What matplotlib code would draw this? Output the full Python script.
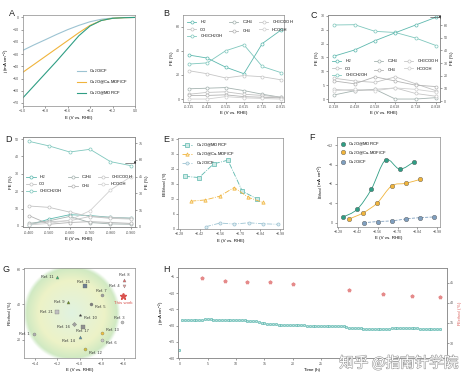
import numpy as np
import matplotlib
matplotlib.use("Agg")
import matplotlib.pyplot as plt
from matplotlib.path import Path
from matplotlib.patches import PathPatch
import matplotlib.patheffects as pe

# ---------------- data ----------------
# A: LSV
E_A = [-1.0, -0.9, -0.8, -0.7, -0.6, -0.5, -0.4, -0.3, -0.2, -0.1, 0.0]
j_A_cf = [-27, -22.5, -18.3, -14, -10, -6.5, -3.5, -1.5, -0.5, -0.1, 0]
j_A_cumof = [-45, -38.5, -32, -25.5, -19, -12.5, -6.5, -2.5, -0.7, -0.2, 0]
j_A_mof = [-66, -56, -46, -36, -25.5, -15, -7, -2.5, -0.7, -0.2, 0]

PROD = ["H$_2$", "C$_2$H$_4$", "CH$_3$COOH", "CO", "CH$_4$", "HCOOH", "CH$_3$CH$_2$OH"]

# B: Cu2O@MOF/CF product FE
B_ticks = ["-0.315", "-0.415", "-0.515", "-0.615", "-0.715", "-0.815"]
B_fe = {
    "H$_2$":          [36.5, 34, 26.5, 21, 46, 57],
    "C$_2$H$_4$":     [8.5, 9, 9.5, 7, 4, 1.5],
    "CH$_3$COOH":     [23.5, 21, 17.5, 19.5, 18.5, 16],
    "CO":             [4, 5.5, 6, 4, 3, 1.5],
    "CH$_4$":         [3, 3, 3.5, 2, 1.5, 1],
    "HCOOH":          [0, 0, 2, 1, 0.5, 0],
    "CH$_3$CH$_2$OH": [29, 30, 40, 45, 27, 22],
}

# C: Cu2O@Cu-MOF/CF product FE (H2 on right axis)
C_ticks = ["-0.318", "-0.418", "-0.518", "-0.618", "-0.718", "-0.818"]
C_fe = {
    "H$_2$":          [35.5, 40.3, 47.6, 53.9, 60, 66.1],
    "C$_2$H$_4$":     [1.5, 3, 3.5, 0, 0, 0.5],
    "CH$_3$COOH":     [3.5, 3, 3.5, 4, 2, 1],
    "CO":             [7.5, 6.5, 6, 8, 5.5, 3],
    "CH$_4$":         [6.5, 5.5, 8, 6.5, 5, 4.5],
    "HCOOH":          [3, 3.5, 3, 4, 3.5, 2.5],
    "CH$_3$CH$_2$OH": [26.7, 26.8, 24.4, 24.0, 22.0, 19.3],
}

# D: Cu2O/CF product FE (ethanol on right axis)
D_ticks = ["-0.460", "-0.560", "-0.660", "-0.760", "-0.860", "-0.960"]
D_fe = {
    "H$_2$":          [0.5, 4, 6.5, 6, 5, 4.5],
    "C$_2$H$_4$":     [1.5, 3, 5.5, 2, 1.2, 1],
    "CH$_3$COOH":     [1, 2.5, 3, 5.5, 5, 4.5],
    "CO":             [11.5, 10.7, 8, 5.4, 4.4, 4],
    "CH$_4$":         [6, 1, 2, 2.5, 2, 1.5],
    "HCOOH":          [0.6, 1.5, 3.4, 8.8, 20.7, 28.4],
    "CH$_3$CH$_2$OH": [76.8, 72.6, 67.2, 69.6, 58.5, 54.9],
}

# E / F: ethanol energy efficiency and partial current density
E_mof = [-0.315, -0.415, -0.515, -0.615, -0.715, -0.815]
E_cumof = [-0.358, -0.458, -0.558, -0.658, -0.758, -0.858]
E_cf = [-0.46, -0.56, -0.66, -0.76, -0.86, -0.96]
ee_mof = [21, 20.5, 26, 27.5, 15, 12]
ee_cumof = [11, 11.5, 13, 16.5, 12.5, 10.5]
ee_cf = [0.7, 2.2, 1.8, 2.3, 1.9, 1.7]
jeth_mof = [-0.9, -2.1, -5.2, -9.7, -8.3, -9.4]
jeth_cumof = [-0.6, -1.55, -3.1, -5.7, -6.1, -6.7]
jeth_cf = [0.0, -0.2, -0.3, -0.6, -0.8, -0.9]

# G: literature comparison
G_names = ["Ref. 1", "Ref. 11", "Ref. 15", "Ref. 7", "Ref. 8", "Ref. 4", "Ref. 9", "Ref. 5",
           "Ref. 21", "Ref. 10", "Ref. 3", "Ref. 16", "Ref. 17", "Ref. 13", "Ref. 14",
           "Ref. 6", "Ref. 12"]
G_E = [-1.41, -1.2, -0.95, -0.8, -0.6, -0.6, -1.1, -0.9, -1.2, -1.0, -0.62, -1.05, -0.97,
       -0.8, -1.0, -0.8, -0.95]
G_FE = [23.2, 55.5, 50.2, 45.5, 54, 50.2, 41.3, 40.4, 35.7, 33.8, 30, 28.9, 27.2, 23.8,
        21.9, 20, 15]
work_E, work_FE = -0.61, 44.5

# H: stability
t_h = np.arange(0, 46.5, 0.5)
j_h = [-27.4,
       -18.4, -18.4, -18.3, -18.3, -18.3, -18.3, -18.2, -18.2,
       -18.1, -18.1, -18.1, -18.2, -18.2, -18.2, -18.2, -18.3,
       -18.3, -18.3, -18.3, -18.4, -18.4, -18.4, -18.4, -18.5,
       -18.5, -18.6, -18.7, -18.9, -19.1, -19.3, -19.4, -19.5,
       -19.6, -19.6, -19.7, -19.7, -19.7, -19.8, -19.8, -19.8,
       -19.9, -19.9, -19.9, -19.9, -20.0, -20.0, -20.0, -20.0,
       -20.0, -20.0, -20.1, -20.1, -20.1, -20.1, -20.0, -20.0,
       -20.0, -20.0, -20.5, -20.6, -20.7, -20.7, -20.8, -20.8,
       -20.9, -20.9, -21.0, -21.0, -21.0, -21.0, -21.0, -21.1,
       -21.1, -21.0, -20.8, -20.7, -20.7, -20.7, -20.7, -20.7,
       -20.8, -20.8, -20.8, -20.8, -20.9, -20.9, -20.9, -20.9,
       -21.0, -21.0, -21.0, -21.0]
t_fe = [4, 8, 12, 16, 20, 30, 36, 41, 46]
fe_h = [46.3, 45.5, 45.3, 45.2, 44.7, 43.2, 42.2, 41.6, 41.4]

# ---------------- style ----------------
plt.rcParams.update({"font.family": ["Liberation Sans", "DejaVu Sans"], "font.size": 3.2,
                     "axes.linewidth": 0.5, "axes.edgecolor": "#8a8a8a",
                     "mathtext.default": "regular"})
TS, LS, GS = 2.6, 3.2, 3.0
MOF_COL = "#2f9e84"; CUMOF_COL = "#f0b43c"; CF_COL = "#9cc3d2"
TEAL = "#5db8ae"
SER_COL = {"H$_2$": TEAL, "C$_2$H$_4$": "#a5b3b0", "CH$_3$COOH": "#c6c6c6", "CO": "#c2c2c2",
           "CH$_4$": "#b3b3b3", "HCOOH": "#d0d0d0", "CH$_3$CH$_2$OH": "#7fc7bd"}
LEG_ORDER = ["H$_2$", "CO", "CH$_3$CH$_2$OH", "C$_2$H$_4$", "CH$_4$", "CH$_3$COOH", "HCOOH"]

W, H = 466, 382
fig = plt.figure(figsize=(W / 100, H / 100), dpi=100, facecolor="white")


def add_ax(l, t, r, b):
    return fig.add_axes([l / W, 1 - b / H, (r - l) / W, (b - t) / H])


def frame(ax):
    for s in ax.spines.values():
        s.set_linewidth(0.5); s.set_color("#8a8a8a")
    ax.tick_params(labelsize=TS, length=1.5, width=0.4, pad=1, colors="#555555")


def tag(x, y, t):
    fig.text(x / W, 1 - y / H, t, fontsize=6.5, ha="center", va="center", color="#222222")


def smooth(ax, xs, ys, **kw):
    # Catmull-Rom style Bezier path through the measured points
    pts = np.column_stack([xs, ys]).astype(float)
    P = np.vstack([pts[0], pts, pts[-1]])
    verts = [tuple(pts[0])]; codes = [Path.MOVETO]
    for i in range(1, len(P) - 2):
        c1 = P[i] + (P[i + 1] - P[i - 1]) / 6
        c2 = P[i + 1] - (P[i + 2] - P[i]) / 6
        verts += [tuple(c1), tuple(c2), tuple(P[i + 1])]
        codes += [Path.CURVE4] * 3
    ax.add_patch(PathPatch(Path(verts, codes), fill=False, **kw))


def fe_panel(ax, data, ticks, right_key=None, ax2=None):
    x = np.arange(len(ticks))
    handles = {}
    for k in PROD:
        tgt = ax2 if (k == right_key and ax2 is not None) else ax
        h, = tgt.plot(x, data[k], "-", marker="o", ms=2.2, lw=0.6, color=SER_COL[k],
                      mfc="white", mew=0.5, label=k)
        handles[k] = h
    ax.set_xticks(x); ax.set_xticklabels(ticks)
    ax.set_xlim(-0.3, 5.2)
    ax.set_xlabel("E (V vs. RHE)", fontsize=LS, labelpad=1.5)
    ax.set_ylabel("FE (%)", fontsize=LS, labelpad=1.5)
    return handles


def fe_legend(ax, hd, y):
    ax.legend([hd[k] for k in LEG_ORDER], LEG_ORDER, ncol=3, loc="upper left", frameon=False,
              fontsize=GS, handlelength=2.2, columnspacing=1.5, labelspacing=0.3,
              bbox_to_anchor=(0.0, y))


# ---------------- A ----------------
ax = add_ax(22.7, 15, 135, 106); frame(ax)
ax.plot(E_A, j_A_cf, color=CF_COL, lw=0.8, label="Cu$_2$O/CF")
ax.plot(E_A, j_A_cumof, color=CUMOF_COL, lw=0.8, label="Cu$_2$O@Cu-MOF/CF")
ax.plot(E_A, j_A_mof, color=MOF_COL, lw=0.8, label="Cu$_2$O@MOF/CF")
ax.set_xlim(-1.0, 0.0); ax.set_ylim(-72.5, 2)
ax.set_xticks([-1.0, -0.8, -0.6, -0.4, -0.2, 0.0])
ax.set_yticks([0, -10, -20, -30, -40, -50, -60, -70])
ax.set_xlabel("E (V vs. RHE)", fontsize=LS, labelpad=1.5)
ax.set_ylabel("j (mA cm$^{-2}$)", fontsize=LS, labelpad=1)
ax.legend(loc="lower right", frameon=False, fontsize=GS, handlelength=2.2,
          bbox_to_anchor=(0.97, 0.06), labelspacing=0.9)
tag(11.5, 14, "A")

# ---------------- B ----------------
ax = add_ax(183.3, 15, 284.3, 101.7); frame(ax)
hb = fe_panel(ax, B_fe, B_ticks)
ax.set_ylim(-2.2, 69.7); ax.set_yticks([0, 20, 40, 60])
fe_legend(ax, hb, 1.0)
tag(166, 14, "B")

# ---------------- C ----------------
ax = add_ax(328.3, 15, 440, 101.7); frame(ax)
ax2 = ax.twinx(); frame(ax2)
hc = fe_panel(ax, C_fe, C_ticks, right_key="H$_2$", ax2=ax2)
ax.set_ylim(-0.96, 30.3); ax.set_yticks([0, 5, 10, 15, 20, 25, 30])
ax2.set_ylim(-0.55, 67.9); ax2.set_yticks([0, 10, 20, 30, 40, 50, 60])
ax2.set_ylabel("FE (%)", fontsize=LS, labelpad=1.5)
fe_legend(ax, hc, 0.55)
ax2.annotate("", xy=(5.2, 63), xytext=(4.55, 66.5),
             arrowprops=dict(arrowstyle="-|>", lw=0.4, color="#333333",
                             connectionstyle="angle,angleA=0,angleB=90,rad=0",
                             mutation_scale=3))
tag(314, 15, "C")

# ---------------- D ----------------
ax = add_ax(22.7, 137.3, 135, 227.3); frame(ax)
ax2 = ax.twinx(); frame(ax2)
hd = fe_panel(ax, D_fe, D_ticks, right_key="CH$_3$CH$_2$OH", ax2=ax2)
ax.set_ylim(-0.75, 51); ax.set_yticks([0, 10, 20, 30, 40, 50])
ax2.set_ylim(-0.5, 80.4); ax2.set_yticks([0, 15, 30, 45, 60, 75])
ax2.set_ylabel("FE (%)", fontsize=LS, labelpad=1.5)
fe_legend(ax, hd, 0.64)
ax2.annotate("", xy=(5.2, 62), xytext=(4.55, 57),
             arrowprops=dict(arrowstyle="-|>", lw=0.4, color="#333333",
                             connectionstyle="angle,angleA=0,angleB=90,rad=0",
                             mutation_scale=3))
tag(8.5, 139, "D")

# ---------------- E ----------------
ax = add_ax(178.3, 138.3, 283.3, 229); frame(ax)
ax.plot(E_mof, ee_mof, "-.", marker="s", color=TEAL, lw=0.6, ms=2.2, mfc="#cfeae6", mew=0.5,
        label="Cu$_2$O@MOF/CF")
ax.plot(E_cumof, ee_cumof, "-.", marker="^", color=CUMOF_COL, lw=0.6, ms=2.4, mfc="#fbe6b8",
        mew=0.5, label="Cu$_2$O@Cu-MOF/CF")
ax.plot(E_cf, ee_cf, "-.", marker="o", color=CF_COL, lw=0.6, ms=2.2, mfc="#e3eef3", mew=0.5,
        label="Cu$_2$O/CF")
ax.set_xlim(-0.27, -1.0); ax.set_ylim(-0.2, 36.3)
ax.set_xticks([-0.28, -0.42, -0.56, -0.70, -0.84, -0.98])
ax.set_yticks([0, 6, 12, 18, 24, 30, 36])
ax.set_xlabel("E (V vs. RHE)", fontsize=LS, labelpad=1.5)
ax.set_ylabel("EE$_{Ethanol}$ (%)", fontsize=LS, labelpad=1.5)
ax.legend(loc="upper left", frameon=False, fontsize=GS, handlelength=2.5, labelspacing=0.4)
tag(166, 139, "E")

# ---------------- F ----------------
ax = add_ax(336.7, 136.7, 440, 226.7); frame(ax)
for xs, ys, col, ls, lab in [(E_mof, jeth_mof, MOF_COL, "-", "Cu$_2$O@MOF/CF"),
                             (E_cumof, jeth_cumof, CUMOF_COL, "-", "Cu$_2$O@Cu-MOF/CF"),
                             (E_cf, jeth_cf, "#7f9fbf", "--", "Cu$_2$O/CF")]:
    smooth(ax, xs, ys, edgecolor=col, lw=0.6, ls=ls)
    ax.plot(xs, ys, "o", color=col, ms=3.2, mec="#555555", mew=0.3, label=lab, ls="none")
ax.set_xlim(-0.27, -1.0); ax.set_ylim(0.6, -13.3)
ax.set_xticks([-0.28, -0.42, -0.56, -0.70, -0.84, -0.98])
ax.set_yticks([0, -3, -6, -9, -12])
ax.set_xlabel("E (V vs. RHE)", fontsize=LS, labelpad=1.5)
ax.set_ylabel("j$_{Ethanol}$ (mA cm$^{-2}$)", fontsize=LS, labelpad=1)
ax.legend(loc="upper left", frameon=False, fontsize=GS, handlelength=1.0, labelspacing=0.4)
tag(312, 138, "F")

# ---------------- G ----------------
ax = add_ax(24, 268.3, 135, 358.3); frame(ax)
nx, ny = 300, 250
X, Y = np.meshgrid(np.linspace(0, 1, nx), np.linspace(0, 1, ny))
r = np.hypot((X - 0.43) * 111, (Y - 0.5) * 90) / 47.0
c0 = np.array([0.88, 0.95, 0.88]); c1 = np.array([0.93, 0.95, 0.78]); c2 = np.array([0.80, 0.91, 0.76])
w1 = np.clip(r / 0.7, 0, 1)[..., None]
w2 = np.clip((r - 0.7) / 0.3, 0, 1)[..., None]
rgb = c0 * (1 - w1) + c1 * w1
rgb = rgb * (1 - w2) + c2 * w2
alpha = np.clip((1.04 - r) / 0.08, 0, 1)[..., None]
img = np.concatenate([rgb, alpha], axis=2)
ax.imshow(img, extent=[0, 1, 0, 1], transform=ax.transAxes, origin="lower",
          aspect="auto", zorder=0, interpolation="bilinear")
g_col = ["#b0b0b0", "#3cb371", "#708090", "#a0a0a0", "#e07070", "#e0a0a0", "#6b8e23",
         "#808080", "#c0c0c0", "#333333", "#c0c0c0", "#a0a0a0", "#909090", "#f0c040",
         "#5a8fa0", "#c8c8c8", "#d4c040"]
g_mk = ["o", "^", "s", "o", "^", "v", "^", "o", "s", "*", "o", "D", "s", "o", "^", "o", "o"]
offs = {"Ref. 1": (-3, 0, "right"), "Ref. 11": (-3, 0, "right"), "Ref. 15": (-1, 3, "center"),
        "Ref. 7": (0, 3, "center"), "Ref. 8": (0, 3, "center"), "Ref. 4": (-3, 0, "right"),
        "Ref. 9": (-3, 0, "right"), "Ref. 5": (3, -2, "left"), "Ref. 21": (-3, 0, "right"),
        "Ref. 10": (3, -2, "left"), "Ref. 3": (-2, 3, "center"), "Ref. 16": (-3, -2, "right"),
        "Ref. 17": (0, -3, "center"), "Ref. 13": (3, 2, "left"), "Ref. 14": (-3, -3, "right"),
        "Ref. 6": (3, -2, "left"), "Ref. 12": (3, -3, "left")}
for n, x, y, c, m in zip(G_names, G_E, G_FE, g_col, g_mk):
    ax.plot(x, y, m, color=c, ms=2.2, mec="#666666", mew=0.2, zorder=3)
    dx, dy, ha = offs[n]
    ax.annotate(n, (x, y), xytext=(dx, dy), textcoords="offset points", fontsize=2.8,
                ha=ha, va="center", color="#333333")
ax.plot(work_E, work_FE, "*", color="#d9534f", ms=5, zorder=4)
ax.annotate("This work", (work_E, work_FE), xytext=(0, -5), textcoords="offset points",
            fontsize=3.2, ha="center", va="center", color="#d9534f")
ax.set_xlim(-1.5, -0.5); ax.set_ylim(9.6, 60.4)
ax.set_xticks([-1.4, -1.2, -1.0, -0.8, -0.6]); ax.set_yticks([20, 40, 60])
ax.set_xlabel("E (V vs. RHE)", fontsize=LS, labelpad=1.5)
ax.set_ylabel("FE$_{ethanol}$ (%)", fontsize=LS, labelpad=1.5)
tag(6, 270, "G")

# ---------------- H ----------------
ax = add_ax(178.3, 268.3, 446.7, 358.3); frame(ax)
ax.plot(t_h, j_h, "o", color="#3aa89e", ms=1.8, mfc="#bfe3de", mew=0.35)
ax.set_xlim(-0.2, 47.2); ax.set_ylim(-30, -2.4)
ax.set_xticks(np.arange(0, 46, 5)); ax.set_yticks([-30, -25, -20, -15, -10, -5])
ax.set_xlabel("Time (h)", fontsize=LS, labelpad=1.5)
ax.set_ylabel("j (mA cm$^{-2}$)", fontsize=LS, labelpad=1.5)
ax2 = ax.twinx(); frame(ax2)
ax2.plot(t_fe, fe_h, "*", color="#e58a8a", ms=2.6)
ax2.set_ylim(26.2, 48.6); ax2.set_yticks([30, 35, 40, 45])
ax2.set_ylabel("FE$_{ethanol}$ (%)", fontsize=LS, labelpad=1.5, color="#d9534f")
tag(166, 270, "H")

fig.text(399 / W, 1 - 363 / H, "知乎 @指南针学院", fontsize=10.5, color="white",
         family=["Noto Sans CJK SC", "DejaVu Sans"], ha="center", va="center", zorder=10,
         path_effects=[pe.withStroke(linewidth=0.8, foreground="#9a9a9a")])

fig.savefig("out.png", dpi=100, facecolor="white")
